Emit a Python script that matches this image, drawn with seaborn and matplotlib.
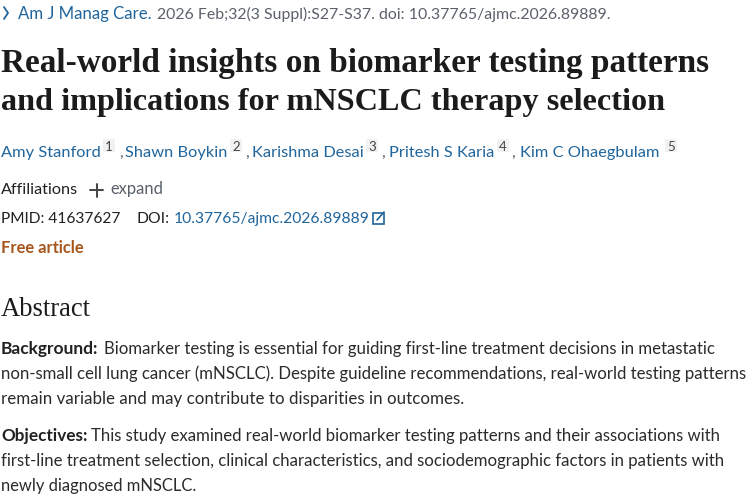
import matplotlib
matplotlib.use('Agg')
import matplotlib.pyplot as plt
import seaborn as sns

sns.set_theme(style='white')
plt.rcParams['font.family'] = ['Lato', 'DejaVu Sans']

BLUE = '#20659c'
GREY = '#5b616b'
DARK = '#212121'
BROWN = '#a8561c'

# page text
journal = 'Am J Manag Care.'
citation = '2026 Feb;32(3 Suppl):S27-S37. doi: 10.37765/ajmc.2026.89889.'
title_lines = ['Real-world insights on biomarker testing patterns',
               'and implications for mNSCLC therapy selection']
authors = ['Amy Stanford', 'Shawn Boykin', 'Karishma Desai', 'Pritesh S Karia', 'Kim C Ohaegbulam']
author_refs = ['1', '2', '3', '4', '5']
pmid = 'PMID: 41637627'
doi_label = 'DOI:'
doi = '10.37765/ajmc.2026.89889'
background = ['Biomarker testing is essential for guiding first-line treatment decisions in metastatic',
              'non-small cell lung cancer (mNSCLC). Despite guideline recommendations, real-world testing patterns',
              'remain variable and may contribute to disparities in outcomes.']
objectives = ['This study examined real-world biomarker testing patterns and their associations with',
              'first-line treatment selection, clinical characteristics, and sociodemographic factors in patients with',
              'newly diagnosed mNSCLC.']

fig = plt.figure(figsize=(7.5, 5), dpi=100)
ax = fig.add_axes([0, 0, 1, 1])
ax.set_xlim(0, 750)
ax.set_ylim(500, 0)
ax.axis('off')


def put(x, y, s, width=None, size=11.6, color=DARK, **kw):
    # y is the baseline; width squeezes the font size so the line ends where it should
    t = ax.text(x, y, s, fontsize=size, color=color, va='baseline', ha='left', **kw)
    if width:
        r = fig.canvas.get_renderer()
        t.set_fontsize(size * width / t.get_window_extent(r).width)
    return t


# citation line
ax.plot([4, 8, 4], [7, 13, 19], color=BLUE, lw=1.3)
put(18, 19, journal, width=134, color=BLUE)
put(157, 19, citation, width=456, color=GREY)

# title
for y, s, w in zip([72, 110], title_lines, [707, 664]):
    put(1, y, s, width=w, size=20, family='Liberation Serif', weight='bold', color='#1b1b1b')

# authors with their reference boxes
author_x = [1, 125, 252, 389, 520]
ref_x = [105, 232, 368, 499, 667]
for x, rx, s, r in zip(author_x, ref_x, authors, author_refs):
    put(x, 157, s, size=11.8, color=BLUE)
    ax.add_patch(plt.Rectangle((rx - 2, 139), 12, 13, color='#f1f1f1', lw=0))
    put(rx, 151, r, size=9.5, color='#444444')
for x in [119, 245, 381, 511]:
    put(x, 157, ',', color=GREY)

# affiliations
put(1, 194, 'Affiliations', width=77)
ax.plot([90, 103], [190, 190], color='#444444', lw=1.4)
ax.plot([96.5, 96.5], [183.5, 196.5], color='#444444', lw=1.4)
put(110, 194, 'expand', width=53, color=GREY)

# ids
put(1, 223, pmid, width=120)
put(137, 223, doi_label, width=33)
put(174, 223, doi, width=195, color=BLUE)
ax.add_patch(plt.Rectangle((373, 213), 11, 11, fill=False, ec=BLUE, lw=1.2))
ax.plot([377, 384], [220, 212], color=BLUE, lw=1.2)

put(1, 253, 'Free article', width=83, color=BROWN, weight='bold')

# abstract
put(1, 316, 'Abstract', width=90, size=17, family='Liberation Serif', color='#1b1b1b')

put(1, 354, 'Background:', width=98, weight='bold')
for y, x, s, w in zip([354, 379, 404], [104, 1, 1], background, [613, 748, 459]):
    put(x, y, s, width=w, color='#2b2b2b')

put(1, 441, 'Objectives:', width=86, weight='bold')
for y, x, s, w in zip([441, 466, 491], [91, 1, 1], objectives, [630, 722, 196]):
    put(x, y, s, width=w, color='#2b2b2b')

fig.savefig('out.png', dpi=100)
